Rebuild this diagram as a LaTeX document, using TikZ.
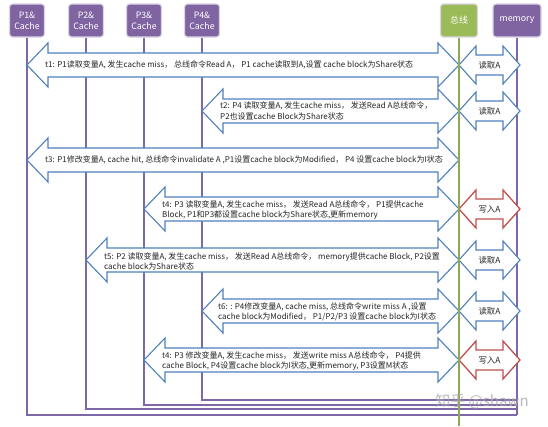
\documentclass[tikz,border=0pt]{standalone}
\usepackage{fontspec}
\setmainfont{Noto Sans CJK SC}
\usetikzlibrary{calc}
\definecolor{ProcFill}{HTML}{8064A2}
\definecolor{ProcLine}{HTML}{7E68A8}
\definecolor{BoxRim}{HTML}{DAD4E4}
\definecolor{BusFill}{HTML}{9BBB59}
\definecolor{BusLine}{HTML}{8EA85A}
\definecolor{ReadInk}{HTML}{4F81BD}
\definecolor{WriteInk}{HTML}{C0504D}
\definecolor{MsgInk}{HTML}{262626}
\definecolor{MarkGray}{HTML}{A8A8A8}

% double block arrow: [style]{left}{right}{body half}{head half}{head length}
\newcommand{\dblarrow}[6][]{%
  \draw[#1] let \p1=(#2), \p2=(#3) in
    (\x1,\y1) -- (\x1+#6,\y1+#5) -- (\x1+#6,\y1+#4) -- (\x2-#6,\y1+#4)
    -- (\x2-#6,\y1+#5) -- (\x2,\y1) -- (\x2-#6,\y1-#5) -- (\x2-#6,\y1-#4)
    -- (\x1+#6,\y1-#4) -- (\x1+#6,\y1-#5) -- cycle;}
% bus <-> memory arrow with its tag
\newcommand{\sidearrow}[3]{%
  \coordinate (#2m) at ($(mem.south |- #2)+(3,0)$);
  \dblarrow[#1]{#2}{#2m}{10pt}{19pt}{17pt}
  \node[tag] (#2t) at ($(#2)!0.5!(#2m)$) {#3};}

\begin{document}
\begin{tikzpicture}[x=1pt, y=-1pt, font=\fontsize{8}{10.2}\selectfont,
  head/.style={rounded corners=3pt, minimum width=35pt, minimum height=33pt,
    inner sep=1pt, text=white, align=center, draw=BoxRim, line width=1.2pt,
    font=\fontsize{8.8}{10.6}\selectfont},
  life/.style={ProcLine, line width=1.6pt},
  busline/.style={BusLine, line width=1.2pt},
  bigarrow/.style={draw=ReadInk, fill=white, line width=1.1pt},
  sideread/.style={draw=ReadInk, fill=white, line width=1.1pt},
  sidewrite/.style={draw=WriteInk, fill=white, line width=1.3pt},
  msg/.style={anchor=west, align=left, inner sep=0pt, text=MsgInk},
  tag/.style={inner sep=0pt, text=MsgInk, font=\fontsize{8.4}{10}\selectfont}]
\useasboundingbox (0,0) rectangle (548,426);

% heads
\node[head, fill=ProcFill] (p1) at (27,20.5) {P1\&\\Cache};
\node[head, fill=ProcFill] (p2) at (86,20.5) {P2\&\\Cache};
\node[head, fill=ProcFill] (p3) at (144,20.5) {P3\&\\Cache};
\node[head, fill=ProcFill] (p4) at (202,20.5) {P4\&\\Cache};
\node[head, fill=BusFill, minimum width=37pt] (bus) at (459,20.5) {总线};
\node[head, fill=ProcFill, minimum width=48pt] (mem) at (517,20.5) {memory};

% lifelines
\draw[life] (p1.south) |- (mem.south |- 0,415);
\draw[life] (p2.south) |- (mem.south |- 0,409);
\draw[life] (p3.south) |- (mem.south |- 0,405);
\draw[life] (p4.south) |- (mem.south |- 0,400);
\draw[life] (mem.south) -- (mem.south |- 0,415);

% t1
\coordinate (t1a) at (p1.south |- 0,65);
\coordinate (t1b) at (bus.south |- 0,65);
\dblarrow[bigarrow]{t1a}{t1b}{12pt}{22pt}{21pt}
\node[msg] (t1) at ($(t1a)+(18,0)$)
  {t1: P1读取变量A, 发生cache miss， 总线命令Read A， P1 cache读取到A,设置 cache block为Share状态};
\sidearrow{sideread}{t1b}{读取A}

% t2
\coordinate (t2a) at (p4.south |- 0,111);
\coordinate (t2b) at (bus.south |- 0,111);
\dblarrow[bigarrow]{t2a}{t2b}{12pt}{22pt}{21pt}
\node[msg] (t2) at ($(t2a)+(18,0)$)
  {t2: P4 读取变量A, 发生cache miss， 发送Read A总线命令，\\P2也设置cache Block为Share状态};
\sidearrow{sideread}{t2b}{读取A}

% t3
\coordinate (t3a) at (p1.south |- 0,160);
\coordinate (t3b) at (bus.south |- 0,160);
\dblarrow[bigarrow]{t3a}{t3b}{12pt}{22pt}{21pt}
\node[msg] (t3) at ($(t3a)+(18,0)$)
  {t3: P1修改变量A, cache hit, 总线命令invalidate A ,P1设置cache block为Modified， P4 设置cache block为I状态};

% t4
\coordinate (t4a) at (p3.south |- 0,209);
\coordinate (t4b) at (bus.south |- 0,209);
\dblarrow[bigarrow]{t4a}{t4b}{12pt}{22pt}{21pt}
\node[msg] (t4) at ($(t4a)+(18,1)$)
  {t4: P3 读取变量A, 发生cache miss， 发送Read A总线命令， P1提供cache\\Block, P1和P3都设置cache block为Share状态,更新memory};
\sidearrow{sidewrite}{t4b}{写入A}

% t5
\coordinate (t5a) at (p2.south |- 0,260);
\coordinate (t5b) at (bus.south |- 0,260);
\dblarrow[bigarrow]{t5a}{t5b}{12pt}{22pt}{21pt}
\node[msg] (t5) at ($(t5a)+(18,1)$)
  {t5: P2 读取变量A, 发生cache miss， 发送Read A总线命令， memory提供cache Block, P2设置\\cache block为Share状态};
\sidearrow{sideread}{t5b}{读取A}

% t6
\coordinate (t6a) at (p4.south |- 0,311);
\coordinate (t6b) at (bus.south |- 0,311);
\dblarrow[bigarrow]{t6a}{t6b}{12pt}{22pt}{21pt}
\node[msg] (t6) at ($(t6a)+(16,1)$)
  {t6: : P4修改变量A, cache miss, 总线命令write miss A ,设置\\cache block为Modified， P1/P2/P3 设置cache block为I状态};
\sidearrow{sideread}{t6b}{读取A}

% t4 (write)
\coordinate (t7a) at (p3.south |- 0,360);
\coordinate (t7b) at (bus.south |- 0,360);
\dblarrow[bigarrow]{t7a}{t7b}{12pt}{22pt}{21pt}
\node[msg] (t7) at ($(t7a)+(18,1)$)
  {t4: P3 修改变量A, 发生cache miss， 发送write miss A总线命令， P4提供\\cache Block, P4设置cache block为I状态,更新memory, P3设置M状态};
\sidearrow{sidewrite}{t7b}{写入A}

\draw[busline] (bus.south) -- (bus.south |- 0,426);

\node[text=MarkGray, opacity=0.8, font=\fontsize{15}{15}\selectfont] (mark) at (482,401) {知乎 @shawn};
\end{tikzpicture}
\end{document}
